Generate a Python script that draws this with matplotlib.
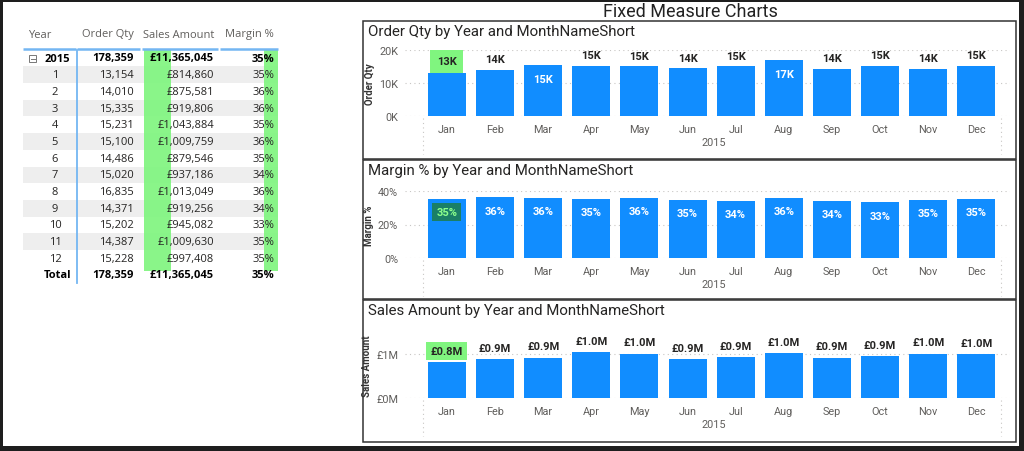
import numpy as np
import matplotlib.pyplot as plt
from matplotlib.patches import Rectangle

# data
months = ['Jan', 'Feb', 'Mar', 'Apr', 'May', 'Jun', 'Jul', 'Aug', 'Sep', 'Oct', 'Nov', 'Dec']
month_nums = [str(i) for i in range(1, 13)]
order_qty = [13154, 14010, 15335, 15231, 15100, 14486, 15020, 16835, 14371, 15202, 14387, 15228]
sales_amount = [814860, 875581, 919806, 1043884, 1009759, 879546, 937186, 1013049, 919256, 945082, 1009630, 997408]
margin_pct = [35.3, 36.2, 35.7, 35.1, 36.0, 34.8, 33.9, 36.0, 34.2, 33.2, 34.6, 35.1]
total_qty = 178359
total_sales = 11365045
total_margin = 35
year = '2015'

W, H = 1024, 452
BLUE = '#118DFF'
GREEN = '#80F57F'
GREY = '#605E5C'
DARK = '#252423'

plt.rcParams['font.family'] = ['Roboto', 'DejaVu Sans']

fig = plt.figure(figsize=(W / 100, H / 100), dpi=100)
fig.patch.set_facecolor('white')

# background axes in pixel coordinates
bg = fig.add_axes([0, 0, 1, 1])
bg.set_xlim(0, W)
bg.set_ylim(H, 0)
bg.axis('off')

# dark frame
for r in [(0, 0, W, 3), (0, 0, 3, H), (1019, 0, 5, H), (0, 447, W, 5)]:
    bg.add_patch(Rectangle((r[0], r[1]), r[2], r[3], color='#1e1e1e', lw=0))

# ---------- table ----------
tfont = ['Open Sans', 'DejaVu Sans']
row0 = 59
step = 16.7
rows_y = [row0 + step * (i + 1) for i in range(12)]

for i, y in enumerate(rows_y):
    if i % 2 == 0:
        bg.add_patch(Rectangle((23, y - step / 2), 255, step, color='#EEEEEE', lw=0))
# green bars
bg.add_patch(Rectangle((144, 51), 27, 221, color=GREEN, lw=0, alpha=0.92))
bg.add_patch(Rectangle((264, 51), 14, 221, color=GREEN, lw=0, alpha=0.92))

# header
hdr = dict(fontsize=8, color=GREY, family=tfont, va='center')
bg.text(28, 35, 'Year', ha='left', **hdr)
bg.text(134, 35, 'Order Qty', ha='right', **hdr)
bg.text(214, 35, 'Sales Amount', ha='right', **hdr)
bg.text(274, 35, 'Margin %', ha='right', **hdr)
for x0, x1 in [(23, 76), (77, 140), (142, 218), (220, 278)]:
    bg.plot([x0, x1], [50, 50], color='#74B6F2', lw=1.8, solid_capstyle='butt')
bg.plot([77, 77], [51, 284], color='#74B6F2', lw=1.3)

# year row
bold = dict(fontsize=8, color='black', family=tfont, va='center', weight='bold')
bg.add_patch(Rectangle((29, 56), 7, 7, fill=False, ec='#777777', lw=0.7))
bg.plot([30.5, 34.5], [59.5, 59.5], color='#777777', lw=0.7)
bg.text(57, row0, year, ha='center', **bold)
bg.text(134, row0, f'{total_qty:,}', ha='right', **bold)
bg.text(214, row0, f'£{total_sales:,}', ha='right', **bold)
bg.text(274, row0, f'{total_margin}%', ha='right', **bold)

norm = dict(fontsize=8, color=DARK, family=tfont, va='center')
for i, y in enumerate(rows_y):
    bg.text(55, y, month_nums[i], ha='center', **norm)
    bg.text(134, y, f'{order_qty[i]:,}', ha='right', **norm)
    bg.text(214, y, f'£{sales_amount[i]:,}', ha='right', **norm)
    bg.text(274, y, f'{round(margin_pct[i])}%', ha='right', **norm)

bg.text(71, 276, 'Total', ha='right', **bold)
bg.text(134, 276, f'{total_qty:,}', ha='right', **bold)
bg.text(214, 276, f'£{total_sales:,}', ha='right', **bold)
bg.text(274, 276, f'{total_margin}%', ha='right', **bold)

# ---------- charts ----------
bg.text(690, 12, 'Fixed Measure Charts', ha='center', va='center', fontsize=13,
        color='#222222')

panels = [(363, 22, 1016, 160), (363, 161, 1016, 300), (363, 301, 1016, 443)]
titles = ['Order Qty by Year and MonthNameShort',
          'Margin % by Year and MonthNameShort',
          'Sales Amount by Year and MonthNameShort']
for (x0, y0, x1, y1), t in zip(panels, titles):
    bg.add_patch(Rectangle((x0, y0), x1 - x0, y1 - y0, fill=False, ec='#333333', lw=1.1))
    bg.text(x0 + 5, y0 + 10, t, ha='left', va='center', fontsize=10.8, color=DARK)


def px_axes(x0, y0, x1, y1):
    return fig.add_axes([x0 / W, 1 - y1 / H, (x1 - x0) / W, (y1 - y0) / H])


def setup(ax, ymax, ticks, ticklabels, ylabel):
    x = np.arange(12)
    ax.set_xlim(-0.87, 11.7)
    ax.set_ylim(0, ymax)
    ax.patch.set_alpha(0)
    for s in ax.spines.values():
        s.set_visible(False)
    ax.set_xticks(x)
    ax.set_xticklabels(months, fontsize=7.8, color=GREY)
    ax.set_yticks(ticks)
    ax.set_yticklabels(ticklabels, fontsize=7.8, color=GREY)
    ax.tick_params(length=0, pad=6)
    ax.tick_params(axis='y', pad=5)
    for t in ticks:
        ax.axhline(t, color='#C8C6C4', lw=0.8, ls=(0, (1, 3)), zorder=0)
    ax.set_ylabel(ylabel, fontsize=7, color='#333333', weight='bold', labelpad=3)
    return x


# chart 1: Order Qty
ax1 = px_axes(405, 51, 1010, 117)
x = setup(ax1, 20000, [0, 10000, 20000], ['0K', '10K', '20K'], 'Order Qty')
ax1.bar(x, order_qty, width=0.79, color=BLUE, zorder=2)
inside = [2, 7]
for i, v in enumerate(order_qty):
    lbl = f'{round(v / 1000)}K'
    if i == 0:
        ax1.annotate(lbl, (i, v), xytext=(0, 8), textcoords='offset points', ha='center',
                     va='center', fontsize=8, weight='bold', color=DARK,
                     bbox=dict(boxstyle='square,pad=0.6', fc=GREEN, ec='none'))
    elif i in inside:
        ax1.annotate(lbl, (i, v), xytext=(0, -10), textcoords='offset points', ha='center',
                     va='center', fontsize=8, weight='bold', color='white')
    else:
        ax1.annotate(lbl, (i, v), xytext=(0, 7.5), textcoords='offset points', ha='center',
                     va='center', fontsize=8, weight='bold', color=DARK)

# chart 2: Margin %
ax2 = px_axes(405, 192, 1010, 259)
x = setup(ax2, 40, [0, 20, 40], ['0%', '20%', '40%'], 'Margin %')
ax2.bar(x, margin_pct, width=0.79, color=BLUE, zorder=2)
for i, v in enumerate(margin_pct):
    lbl = f'{round(v)}%'
    if i == 0:
        ax2.annotate(lbl, (i, v), xytext=(0, -9.5), textcoords='offset points', ha='center',
                     va='center', fontsize=8, weight='bold', color='#8CFF8C',
                     bbox=dict(boxstyle='square,pad=0.35', fc='#1A7F66', ec='none'))
    else:
        ax2.annotate(lbl, (i, v), xytext=(0, -9.5), textcoords='offset points', ha='center',
                     va='center', fontsize=8, weight='bold', color='white')

# chart 3: Sales Amount
ax3 = px_axes(405, 333, 1010, 399)
x = setup(ax3, 1.5e6, [0, 1e6], ['£0M', '£1M'], 'Sales Amount')
ax3.bar(x, sales_amount, width=0.79, color=BLUE, zorder=2)
for i, v in enumerate(sales_amount):
    lbl = f'£{v / 1e6:.1f}M'
    kw = dict(xytext=(0, 8), textcoords='offset points', ha='center', va='center',
              fontsize=8, weight='bold', color=DARK)
    if i == 0:
        kw['bbox'] = dict(boxstyle='square,pad=0.4', fc=GREEN, ec='none')
    ax3.annotate(lbl, (i, v), **kw)

# year label and category separators under each chart
for ax, y0 in [(ax1, 117), (ax2, 259), (ax3, 399)]:
    bg.text(714, y0 + 26, year, ha='center', va='center', fontsize=7.8, color=GREY)
    for xp in (423, 1001):
        bg.plot([xp, xp], [y0 + 2, y0 + 38], color='#C8C6C4', lw=0.8, ls=(0, (1, 3)))

fig.savefig('out.png', dpi=100)
